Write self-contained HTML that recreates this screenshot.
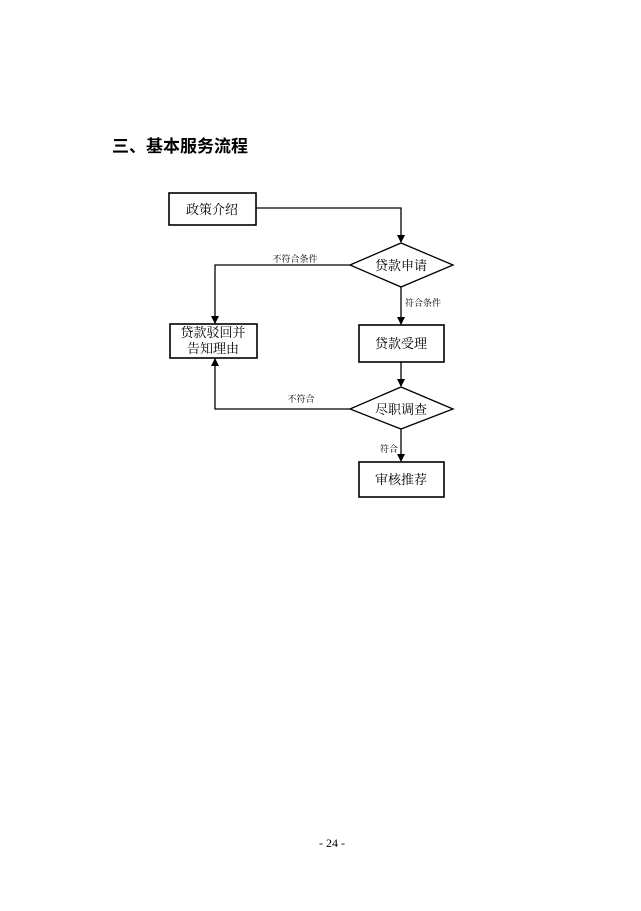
<!DOCTYPE html>
<html><head><meta charset="utf-8"><style>
body{margin:0;background:#fff;}
svg text{font-family:"Liberation Serif","Noto Serif CJK SC",serif;fill:#000;}
</style></head><body>
<svg width="641" height="906" viewBox="0 0 641 906" xmlns="http://www.w3.org/2000/svg">
<defs><marker id="a" markerWidth="8" markerHeight="8" refX="7" refY="4" orient="auto" markerUnits="userSpaceOnUse"><path d="M0,0 L8,4 L0,8 z" fill="#000"/></marker></defs>
<text x="112" y="152" style="font-family:'Liberation Sans','Noto Sans CJK SC',sans-serif;font-size:17px;font-weight:bold">三、基本服务流程</text>
<g fill="none" stroke="#000" stroke-width="1.3">
<rect x="169" y="193" width="87" height="32" stroke-width="1.6"/>
<polygon points="350,265 401,243 453,265 401,287"/>
<rect x="170" y="324" width="87" height="34" stroke-width="1.6"/>
<rect x="359" y="325" width="85" height="37" stroke-width="1.6"/>
<polygon points="350,409 401,387 453,409 401,429"/>
<rect x="359" y="462" width="85" height="35" stroke-width="1.6"/>
<polyline points="256,208 401,208 401,242" marker-end="url(#a)"/>
<polyline points="350,265 215,265 215,323" marker-end="url(#a)"/>
<line x1="401" y1="287" x2="401" y2="324" marker-end="url(#a)"/>
<line x1="401" y1="362" x2="401" y2="386" marker-end="url(#a)"/>
<polyline points="350,409 215,409 215,359" marker-end="url(#a)"/>
<line x1="401" y1="429" x2="401" y2="461" marker-end="url(#a)"/>
</g>
<text x="212" y="214" font-size="13" text-anchor="middle">政策介绍</text>
<text x="401" y="270" font-size="13" text-anchor="middle">贷款申请</text>
<text x="295" y="262" font-size="9" text-anchor="middle">不符合条件</text>
<text x="423" y="306" font-size="9" text-anchor="middle">符合条件</text>
<text x="213" y="337" font-size="13" text-anchor="middle">贷款驳回并</text>
<text x="213" y="353" font-size="13" text-anchor="middle">告知理由</text>
<text x="401" y="348" font-size="13" text-anchor="middle">贷款受理</text>
<text x="401" y="414" font-size="13" text-anchor="middle">尽职调查</text>
<text x="301" y="402" font-size="9" text-anchor="middle">不符合</text>
<text x="389" y="452" font-size="9" text-anchor="middle">符合</text>
<text x="401" y="484" font-size="13" text-anchor="middle">审核推荐</text>
<text x="332" y="847" font-size="12" text-anchor="middle">- 24 -</text>
</svg>
</body></html>
